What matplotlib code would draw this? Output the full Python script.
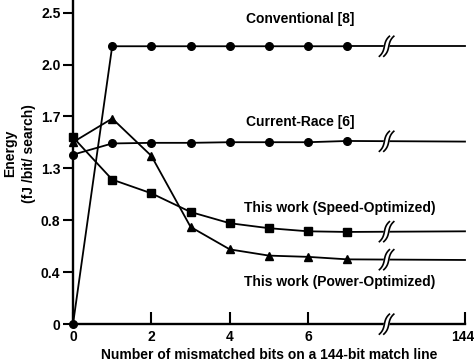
import matplotlib

matplotlib.use("Agg")
import matplotlib.pyplot as plt
import matplotlib.transforms as mtransforms
import numpy as np

plt.rcParams["font.family"] = ["Liberation Sans", "DejaVu Sans"]
plt.rcParams["font.weight"] = "bold"

# mismatched bits measured, plus the 144-bit tail point
BITS = [0, 1, 2, 3, 4, 5, 6, 7]
TAIL_BIT = 144

conventional = [0.0, 2.23, 2.23, 2.23, 2.23, 2.23, 2.23, 2.23]
conventional_tail = 2.23
current_race = [1.36, 1.45, 1.455, 1.455, 1.46, 1.46, 1.46, 1.47]
current_race_tail = 1.465
speed_opt = [1.50, 1.16, 1.05, 0.90, 0.81, 0.77, 0.745, 0.74]
speed_opt_tail = 0.745
power_opt = [1.46, 1.65, 1.35, 0.78, 0.60, 0.55, 0.54, 0.52]
power_opt_tail = 0.515

Y_TICK_LABELS = ["0", "0.4", "0.8", "1.3", "1.7", "2.0", "2.5"]
X_TICK_BITS = [0, 2, 4, 6, 144]

BREAK_POS = 8.0   # axis position of the break
TAIL_POS = 10.0   # axis position used for the 144-bit point


def to_pos(b):
    return TAIL_POS if b == TAIL_BIT else float(b)


fig = plt.figure(figsize=(4.74, 3.63), dpi=100)
ax = fig.add_axes([0.154, 0.107, 0.827, 0.8926])

series = [
    (conventional, conventional_tail, "o"),
    (current_race, current_race_tail, "o"),
    (speed_opt, speed_opt_tail, "s"),
    (power_opt, power_opt_tail, "^"),
]
for vals, tail, mk in series:
    xs = [to_pos(b) for b in BITS]
    ax.plot(xs, vals, color="black", lw=1.3, marker=mk,
            ms={"o": 5.5, "s": 5.3, "^": 6.0}[mk], zorder=3, clip_on=False)
    ax.plot([xs[-1], to_pos(TAIL_BIT)], [vals[-1], tail], color="black", lw=1.3,
            zorder=3, clip_on=False)

ax.set_xlim(0, 10)
ax.set_ylim(0, 2.6)
ax.set_yticks([2.5 * i / 6 for i in range(7)])
ax.set_yticklabels(Y_TICK_LABELS)
ax.set_xticks([to_pos(b) for b in X_TICK_BITS])
ax.set_xticklabels([str(b) for b in X_TICK_BITS])
ax.tick_params(axis="y", direction="out", length=7, width=1.5, labelsize=10, pad=2)
ax.tick_params(axis="x", direction="in", length=9, width=1.5, labelsize=10, pad=4)
for s_ in ("top", "right"):
    ax.spines[s_].set_visible(False)
for s_ in ("left", "bottom"):
    ax.spines[s_].set_linewidth(1.7)

# keep the last x tick label ("144") inside the figure
last = ax.get_xticklabels()[-1]
last.set_horizontalalignment("right")
last.set_transform(last.get_transform() +
                   mtransforms.ScaledTranslation(9 / 100, 0, fig.dpi_scale_trans))

# break marks: two slanted S-curves with a white gap in between
px = 10 / 392.0
py = 2.6 / 324.0


def draw_break(x0, y0, half_h=10):
    t = np.linspace(-1, 1, 40)
    cx = (3.0 * t ** 3 + 2.0 * t) * px
    cy = half_h * t * py
    left = (x0 - 2.2 * px + cx, y0 + cy)
    right = (x0 + 2.2 * px + cx, y0 + cy)
    poly_x = np.concatenate([left[0], right[0][::-1]])
    poly_y = np.concatenate([left[1], right[1][::-1]])
    ax.fill(poly_x, poly_y, color="white", zorder=4, clip_on=False)
    ax.plot(*left, color="black", lw=1.2, zorder=5, clip_on=False)
    ax.plot(*right, color="black", lw=1.2, zorder=5, clip_on=False)


for vals, tail, mk in series:
    draw_break(BREAK_POS, (vals[-1] + tail) / 2)
draw_break(BREAK_POS, 0.0)

txt = dict(ha="center", va="center", fontsize=10, fontweight="bold")
ax.text(5.8, 2.45, "Conventional [8]", **txt)
ax.text(5.8, 1.625, "Current-Race [6]", **txt)
ax.text(6.8, 0.93, "This work (Speed-Optimized)", **txt)
ax.text(6.8, 0.34, "This work (Power-Optimized)", **txt)

ax.set_xlabel("Number of mismatched bits on a 144-bit match line",
              fontsize=10, fontweight="bold", labelpad=3)
fig.text(0.006, 0.578, "Energy\n(fJ /bit/ search)", fontsize=10,
         fontweight="bold", rotation=90, ha="left", va="center",
         multialignment="center", linespacing=1.5)

fig.savefig("out.png", dpi=100)
